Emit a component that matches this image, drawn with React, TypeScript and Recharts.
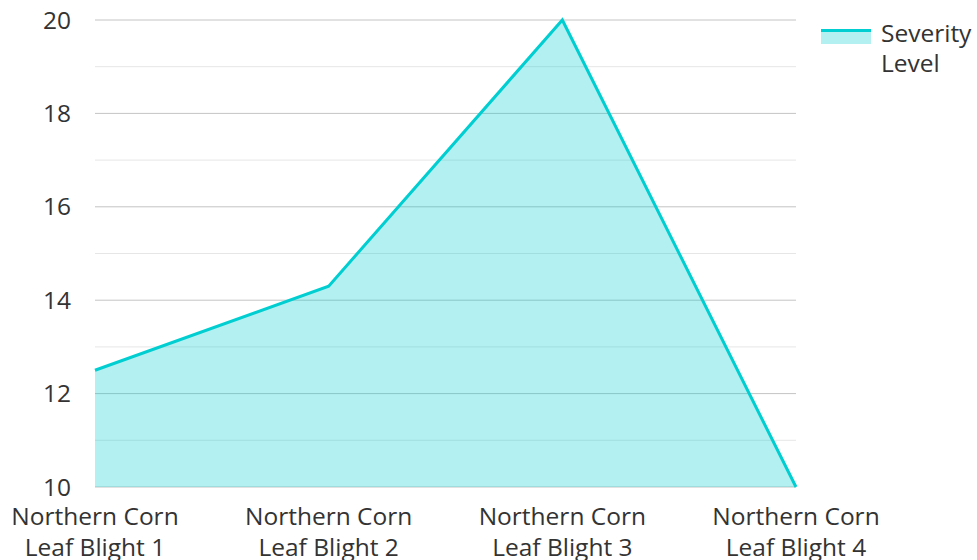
import { AreaChart, Area, XAxis, YAxis, CartesianGrid } from 'recharts';

// categories and values
const diseases = [
  'Northern Corn Leaf Blight 1',
  'Northern Corn Leaf Blight 2',
  'Northern Corn Leaf Blight 3',
  'Northern Corn Leaf Blight 4',
];
const severity = [12.5, 14.3, 20, 10];
// every integer gets a grid line, only the even ones get a label
const yTicks = [10, 11, 12, 13, 14, 15, 16, 17, 18, 19, 20];
const seriesName = 'Severity Level';

const data = diseases.map((name, i) => ({ name, severity: severity[i] }));

const LINE = '#00CED1';
const FILL = '#00CED1';
const FONT = '"Open Sans", sans-serif';
const FS = 24.5;

// split the long category name into two lines
const XTick = (props: any) => {
  const { x, y, payload } = props;
  const words = String(payload.value).split(' ');
  const first = words.slice(0, 2).join(' ');
  const second = words.slice(2).join(' ');
  return (
    <text x={x} y={y} textAnchor="middle" fill="#333" fontSize={FS} fontFamily={FONT}>
      <tspan x={x} dy={30}>{first}</tspan>
      <tspan x={x} dy={31}>{second}</tspan>
    </text>
  );
};

// major lines darker, minor (odd values) lighter
const GridLine = (props: any) => {
  const { x1, x2, y1, y2, index } = props;
  const major = index % 2 === 0;
  return <line x1={x1} x2={x2} y1={y1} y2={y2} stroke={major ? '#c4c4c4' : '#e6e6e6'} strokeWidth={1} />;
};

// legend sits outside the chart so it doesn't shrink the plot area
const LegendBox = () => (
  <div
    style={{
      position: 'absolute',
      left: 821,
      top: 18,
      display: 'flex',
      alignItems: 'flex-start',
      fontFamily: FONT,
      fontSize: FS,
      color: '#333',
    }}
  >
    <svg width={50} height={15} style={{ marginTop: 11, marginRight: 10, flexShrink: 0 }}>
      <rect x={0} y={0} width={50} height={15} fill={FILL} fillOpacity={0.3} />
      <line x1={0} y1={1.5} x2={50} y2={1.5} stroke={LINE} strokeWidth={3} />
    </svg>
    <div style={{ width: 96, lineHeight: '30px' }}>{seriesName}</div>
  </div>
);

export default function App() {
  return (
    <div style={{ position: 'absolute', left: 0, top: 0, width: 977, height: 560 }}>
      <AreaChart
        width={977}
        height={560}
        data={data}
        margin={{ top: 20, right: 181, bottom: 0, left: 0 }}
      >
        <CartesianGrid vertical={false} horizontal={(p: any) => <GridLine {...p} />} />
        <XAxis
          dataKey="name"
          axisLine={false}
          tickLine={false}
          interval={0}
          height={73}
          tick={<XTick />}
        />
        <YAxis
          domain={[10, 20]}
          ticks={yTicks}
          interval={0}
          width={95}
          axisLine={false}
          tickLine={false}
          tickMargin={18}
          tickFormatter={(v: number) => (v % 2 === 0 ? String(v) : '')}
          tick={{ fill: '#333', fontSize: FS, fontFamily: FONT }}
        />
        <Area
          type="linear"
          dataKey="severity"
          name={seriesName}
          stroke={LINE}
          strokeWidth={3}
          fill={FILL}
          fillOpacity={0.3}
          dot={false}
          activeDot={false}
          isAnimationActive={false}
        />
      </AreaChart>
      <LegendBox />
    </div>
  );
}
